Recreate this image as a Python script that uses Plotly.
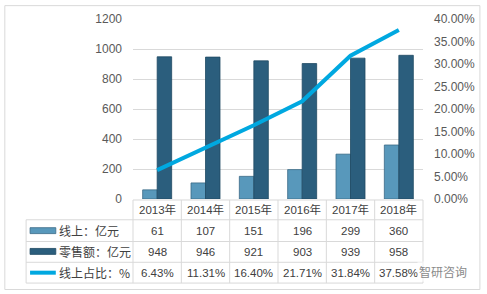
import plotly.graph_objects as go

years = ["2013年", "2014年", "2015年", "2016年", "2017年", "2018年"]
online = [61, 107, 151, 196, 299, 360]
retail = [948, 946, 921, 903, 939, 958]
share = [0.0643, 0.1131, 0.1640, 0.2171, 0.3184, 0.3758]
share_labels = ["6.43%", "11.31%", "16.40%", "21.71%", "31.84%", "37.58%"]
row_names = ["线上：亿元", "零售额：亿元", "线上占比：%"]
y_ticks = [0, 200, 400, 600, 800, 1000, 1200]
y2_ticks = [0, 0.05, 0.10, 0.15, 0.20, 0.25, 0.30, 0.35, 0.40]

W, H = 487, 294
L, R, T, B = 133, 61, 17, 95
PH = H - T - B
def py(y):  # pixel y -> paper
    return (H - B - y) / PH
PW = W - L - R
def px(x):
    return (x - L) / PW

FONT = "Liberation Sans, Noto Sans CJK SC, sans-serif"
CJK = "Noto Sans CJK SC, sans-serif"
light = "#5898bb"
dark = "#2b5e7d"
linec = "#00a8e0"
grid = "#d9d9d9"
txt = "#404040"

fig = go.Figure()
fig.add_bar(x=years, y=online, marker=dict(color=light, line=dict(color="#3a6a86", width=0.8)), name=row_names[0])
fig.add_bar(x=years, y=retail, marker=dict(color=dark, line=dict(color="#1f4a63", width=0.8)), name=row_names[1])
fig.add_scatter(x=years, y=share, yaxis="y2", mode="lines", line=dict(color=linec, width=4), name=row_names[2])

shapes = []
ann = []
rows_y = [200, 220, 242, 263, 284]
for i, yy in enumerate(rows_y):
    x0 = 133 if i == 0 else 25
    shapes.append(dict(type="line", xref="paper", yref="paper", x0=px(x0), x1=px(426), y0=py(yy), y1=py(yy), line=dict(color=grid, width=1)))
shapes.append(dict(type="line", xref="paper", yref="paper", x0=px(25), x1=px(25), y0=py(220), y1=py(284), line=dict(color=grid, width=1)))
for k in range(len(years) + 1):
    xx = 133 + k * PW / len(years)
    shapes.append(dict(type="line", xref="paper", yref="paper", x0=px(xx), x1=px(xx), y0=py(200), y1=py(284), line=dict(color=grid, width=1)))
shapes.append(dict(type="rect", xref="paper", yref="paper", x0=px(3.5), x1=px(483.5), y0=py(3.5), y1=py(290.5), line=dict(color=grid, width=1)))
shapes.append(dict(type="rect", xref="paper", yref="paper", x0=px(29), x1=px(55), y0=py(228), y1=py(234), fillcolor=light, line=dict(color="#3a6a86", width=0.8)))
shapes.append(dict(type="rect", xref="paper", yref="paper", x0=px(29), x1=px(55), y0=py(249), y1=py(255), fillcolor=dark, line=dict(color="#1f4a63", width=0.8)))
shapes.append(dict(type="line", xref="paper", yref="paper", x0=px(29), x1=px(55), y0=py(273.5), y1=py(273.5), line=dict(color=linec, width=4)))

row_centers = [210, 231, 252.5, 273.5]
def cell(x, xref, y, text, font, xanchor="center", **kw):
    d = dict(x=x, xref=xref, xanchor=xanchor, y=py(y), yref="paper", yanchor="middle",
             text=text, showarrow=False, font=font)
    d.update(kw)
    return d

nf = dict(family=FONT, size=11.5, color=txt)
for i, yr in enumerate(years):
    ann.append(cell(yr, "x", row_centers[0], yr, nf))
    ann.append(cell(yr, "x", row_centers[1], str(online[i]), nf))
    ann.append(cell(yr, "x", row_centers[2], str(retail[i]), nf))
    ann.append(cell(yr, "x", row_centers[3], share_labels[i], nf))
for j, nm in enumerate(row_names):
    ann.append(cell(px(56), "paper", row_centers[j + 1], nm, dict(family=CJK, size=12, color=txt), xanchor="left"))
ann.append(cell(px(472), "paper", 272, "智研咨询", dict(family=CJK, size=12, color="#8a8a8a"), xanchor="right",
                bgcolor="rgba(255,255,255,0.6)"))

fig.update_layout(
    width=W, height=H,
    margin=dict(l=L, r=R, t=T, b=B),
    paper_bgcolor="white", plot_bgcolor="white",
    barmode="group", bargap=0.4, bargroupgap=0,
    showlegend=False,
    font=dict(family=FONT, size=12, color="#595959"),
    xaxis=dict(showticklabels=False, showgrid=False, zeroline=False, showline=False, ticks=""),
    yaxis=dict(range=[0, 1200], tickvals=y_ticks, showgrid=True, gridcolor=grid, gridwidth=1,
               zeroline=False, showline=False, ticks="", ticklabelstandoff=10,
               tickfont=dict(family=FONT, size=12, color="#595959")),
    yaxis2=dict(range=[0, 0.4], tickvals=y2_ticks, tickformat=".2%", overlaying="y", side="right",
                showgrid=False, zeroline=False, showline=False, ticks="", ticklabelstandoff=10,
                tickfont=dict(family=FONT, size=12, color="#595959")),
    shapes=shapes, annotations=ann,
)
fig.write_html("out.html")
